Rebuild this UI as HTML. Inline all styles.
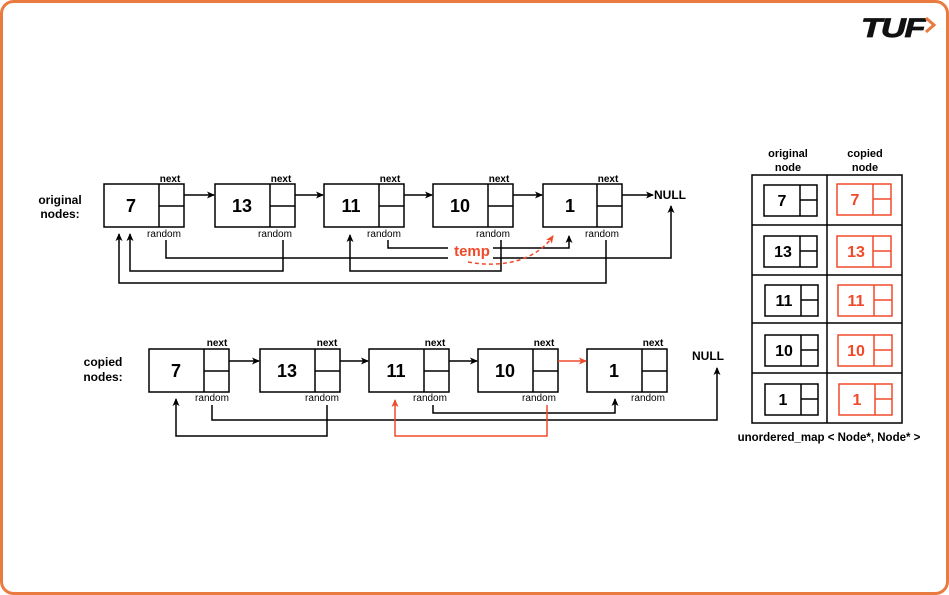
<!DOCTYPE html>
<html><head><meta charset="utf-8"><style>
html,body{margin:0;padding:0;background:#fff;}
svg{display:block;}
text{font-family:"Liberation Sans",Arial,sans-serif;}
</style></head><body>
<svg width="949" height="595" viewBox="0 0 949 595" xmlns="http://www.w3.org/2000/svg">
<defs>
<marker id="a" markerWidth="8" markerHeight="8" refX="7" refY="4" orient="auto" markerUnits="userSpaceOnUse"><path d="M0,0.5 L8,4 L0,7.5 L2,4 Z" fill="#000"/></marker>
<marker id="r" markerWidth="8" markerHeight="8" refX="7" refY="4" orient="auto" markerUnits="userSpaceOnUse"><path d="M0,0.5 L8,4 L0,7.5 L2,4 Z" fill="#f04a2a"/></marker>
</defs>
<rect x="1.5" y="1.5" width="946" height="592" rx="12" fill="#fff" stroke="#e97a40" stroke-width="3"/>
<text transform="translate(861,37) scale(1.28,1)" x="0" y="0" font-size="27" font-weight="900" font-style="italic" fill="#111" letter-spacing="-1" stroke="#111" stroke-width="0.8">TUF</text>
<path d="M926,18 L934,25 L926,32" fill="none" stroke="#e97a40" stroke-width="3"/>

<g stroke="#000" stroke-width="1.5" fill="none">
<rect x="104" y="184" width="80" height="43"/><path d="M159,184V227M159,206H184"/>
<rect x="215" y="184" width="80" height="43"/><path d="M270,184V227M270,206H295"/>
<rect x="324" y="184" width="80" height="43"/><path d="M379,184V227M379,206H404"/>
<rect x="433" y="184" width="80" height="43"/><path d="M488,184V227M488,206H513"/>
<rect x="543" y="184" width="79" height="43"/><path d="M597,184V227M597,206H622"/>
<path d="M184,195H214" marker-end="url(#a)"/>
<path d="M295,195H323" marker-end="url(#a)"/>
<path d="M404,195H432" marker-end="url(#a)"/>
<path d="M513,195H542" marker-end="url(#a)"/>
<path d="M622,195H653" marker-end="url(#a)"/>
<path d="M166,240V258H448M493,258H671V206" marker-end="url(#a)"/>
<path d="M283,240V271H130V234" marker-end="url(#a)"/>
<path d="M388,240V248H448M493,248H569V236" marker-end="url(#a)"/>
<path d="M501,240V271H350V235" marker-end="url(#a)"/>
<path d="M606,240V283H119V234" marker-end="url(#a)"/>
<rect x="149" y="349" width="80" height="43"/><path d="M204,349V392M204,371H229"/>
<rect x="260" y="349" width="80" height="43"/><path d="M315,349V392M315,371H340"/>
<rect x="369" y="349" width="80" height="43"/><path d="M424,349V392M424,371H449"/>
<rect x="478" y="349" width="80" height="43"/><path d="M533,349V392M533,371H558"/>
<rect x="587" y="349" width="80" height="43"/><path d="M642,349V392M642,371H667"/>
<path d="M229,361H259" marker-end="url(#a)"/>
<path d="M340,361H368" marker-end="url(#a)"/>
<path d="M449,361H477" marker-end="url(#a)"/>
<path d="M212,405V420H717V368" marker-end="url(#a)"/>
<path d="M327,405V436H176V399" marker-end="url(#a)"/>
<path d="M433,405V413H615V399" marker-end="url(#a)"/>
<rect x="752" y="175" width="150" height="248"/>
<path d="M827,175V423M752,225H902M752,275H902M752,323H902M752,373H902"/>
<rect x="764" y="185" width="53" height="31"/><path d="M800,185V216M800,200H817"/>
<rect x="764" y="236" width="53" height="31"/><path d="M800,236V267M800,251H817"/>
<rect x="765" y="285" width="53" height="31"/><path d="M801,285V316M801,300H818"/>
<rect x="765" y="335" width="53" height="31"/><path d="M801,335V366M801,350H818"/>
<rect x="765" y="384" width="53" height="31"/><path d="M801,384V415M801,399H818"/>
</g>
<g stroke="#f04a2a" stroke-width="1.5" fill="none">
<path d="M558,361H586" marker-end="url(#r)"/>
<path d="M547,405V436H395V400" marker-end="url(#r)"/>
<path d="M468,262 C500,268 535,262 553,236" stroke-dasharray="4,3" marker-end="url(#r)"/>
<rect x="837" y="184" width="54" height="31"/><path d="M873,184V215M873,199H891"/>
<rect x="837" y="236" width="54" height="31"/><path d="M873,236V267M873,251H891"/>
<rect x="838" y="285" width="54" height="31"/><path d="M874,285V316M874,300H892"/>
<rect x="838" y="335" width="54" height="31"/><path d="M874,335V366M874,350H892"/>
<rect x="839" y="384" width="53" height="31"/><path d="M875,384V415M875,399H892"/>
</g>

<g font-weight="bold" fill="#000">
<text x="60" y="204" font-size="12" text-anchor="middle">original</text>
<text x="60" y="218" font-size="12" text-anchor="middle">nodes:</text>
<text x="103" y="366" font-size="12" text-anchor="middle">copied</text>
<text x="103" y="381" font-size="12" text-anchor="middle">nodes:</text>
<g font-size="18" text-anchor="middle">
<text x="131" y="212">7</text><text x="242" y="212">13</text><text x="351" y="212">11</text><text x="460" y="212">10</text><text x="570" y="212">1</text>
<text x="176" y="377">7</text><text x="287" y="377">13</text><text x="396" y="377">11</text><text x="505" y="377">10</text><text x="614" y="377">1</text>
</g>
<g font-size="10" text-anchor="middle">
<text x="170" y="182">next</text><text x="281" y="182">next</text><text x="390" y="182">next</text><text x="499" y="182">next</text><text x="608" y="182">next</text>
<text x="217" y="346">next</text><text x="327" y="346">next</text><text x="435" y="346">next</text><text x="544" y="346">next</text><text x="653" y="346">next</text>
</g>
<g font-size="10" text-anchor="middle" font-weight="normal">
<text x="164" y="237">random</text><text x="275" y="237">random</text><text x="384" y="237">random</text><text x="493" y="237">random</text><text x="602" y="237">random</text>
<text x="212" y="401">random</text><text x="322" y="401">random</text><text x="430" y="401">random</text><text x="539" y="401">random</text><text x="648" y="401">random</text>
</g>
<text x="654" y="199" font-size="12">NULL</text>
<text x="692" y="360" font-size="12">NULL</text>
<text x="472" y="256" font-size="15" text-anchor="middle" fill="#f04a2a">temp</text>
<text x="788" y="157" font-size="11" text-anchor="middle">original</text>
<text x="788" y="171" font-size="11" text-anchor="middle">node</text>
<text x="865" y="157" font-size="11" text-anchor="middle">copied</text>
<text x="865" y="171" font-size="11" text-anchor="middle">node</text>
<g font-size="16" text-anchor="middle">
<text x="782" y="206">7</text><text x="783" y="257">13</text><text x="784" y="306">11</text><text x="784" y="356">10</text><text x="783" y="405">1</text>
</g>
<g font-size="16" text-anchor="middle" fill="#f04a2a">
<text x="855" y="205">7</text><text x="856" y="257">13</text><text x="856" y="306">11</text><text x="856" y="356">10</text><text x="857" y="405">1</text>
</g>
<text x="829" y="441" font-size="11.5" text-anchor="middle">unordered_map &lt; Node*, Node* &gt;</text>
</g>
</svg>
</body></html>
